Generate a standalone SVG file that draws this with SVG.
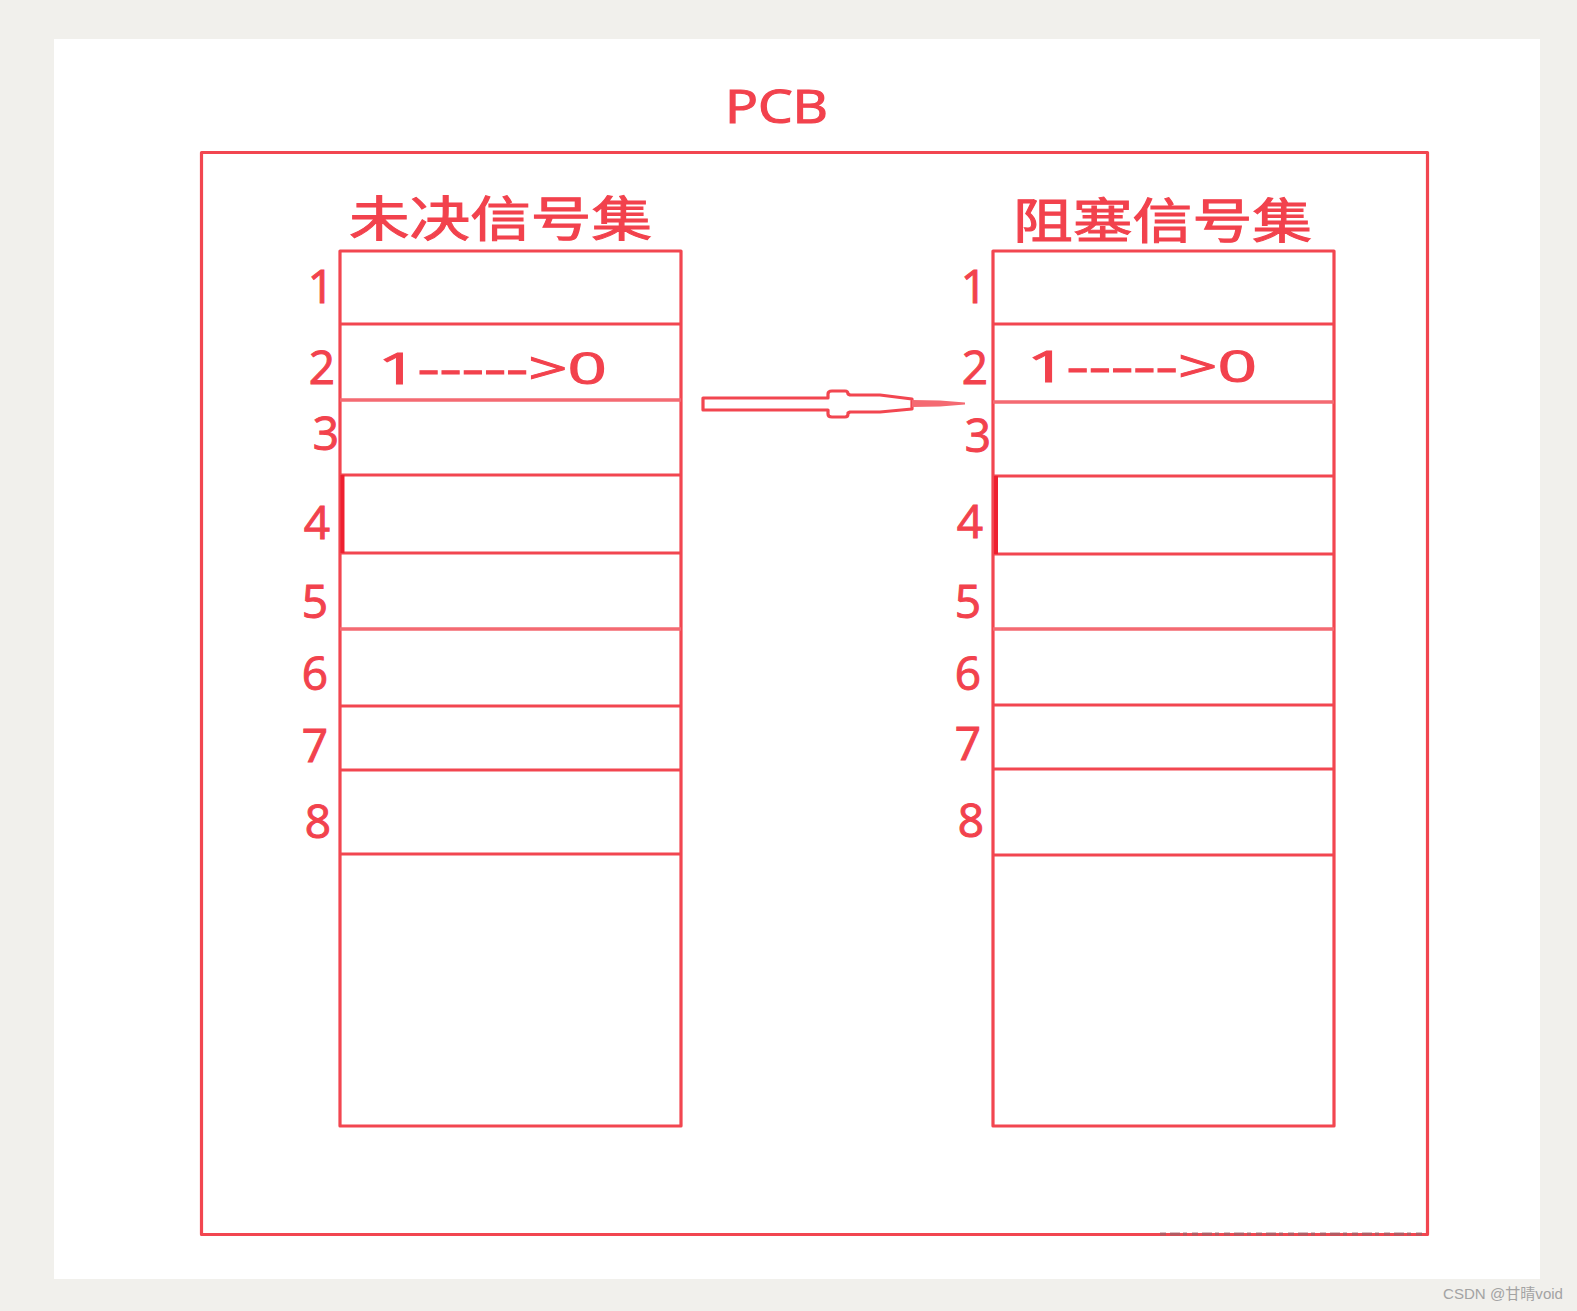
<svg xmlns="http://www.w3.org/2000/svg" width="1577" height="1311" viewBox="0 0 1577 1311">
<style>
.ln{fill:none;stroke:#f24650;stroke-width:3.2;stroke-linejoin:round}
.lt{stroke:#f46a72;stroke-width:3.6}
.num{font-family:"Open Sans","Noto Sans",sans-serif;font-size:46px;fill:#f2424d;stroke:#f2424d;stroke-width:1;text-anchor:middle}
.cell{font-family:"Open Sans","Noto Sans",sans-serif;font-size:44px;fill:#f2424d;stroke:#f2424d;stroke-width:1}
.cjk{font-family:"Noto Sans CJK SC",sans-serif;font-size:48px;fill:#f2424d;stroke:#f2424d;stroke-width:1}
</style>
<rect x="0" y="0" width="1577" height="1311" fill="#f1f0ec"/>
<rect x="54" y="39" width="1486" height="1240" fill="#ffffff"/>

<g id="pcb">
<rect class="ln" x="201.5" y="152.5" width="1226" height="1082" stroke-width="3.5"/>
<text x="725" y="123" font-family="Open Sans, Noto Sans, sans-serif" font-size="46" fill="#f2424d" stroke="#f2424d" stroke-width="1.2" textLength="103" lengthAdjust="spacingAndGlyphs">PCB</text>
<path d="M1160 1234 H1425" stroke="#a06068" stroke-width="3" stroke-dasharray="6 4 10 3 4 5" fill="none" opacity="0.8"/>
</g>

<g id="pending">
<text class="cjk" x="349" y="236" textLength="303" lengthAdjust="spacingAndGlyphs">未决信号集</text>
<rect class="ln" x="340" y="251" width="341" height="875"/>
<path class="ln" d="M340 324 H681 M340 475 H681 M340 553 H681 M340 706 H681 M340 770 H681 M340 854 H681"/>
<path class="ln lt" d="M340 400 H681 M340 629 H681"/>
<path d="M342.5 475 V553" stroke="#ee2030" stroke-width="4"/>
<text class="cell" x="378" y="384" textLength="229" lengthAdjust="spacingAndGlyphs">1-----&gt;0</text>
<text class="num" x="321" y="303">1</text>
<text class="num" x="322" y="384">2</text>
<text class="num" x="326" y="450">3</text>
<text class="num" x="317" y="539">4</text>
<text class="num" x="315" y="618">5</text>
<text class="num" x="315" y="690">6</text>
<text class="num" x="315" y="762">7</text>
<text class="num" x="318" y="838">8</text>
</g>

<g id="blocked">
<text class="cjk" x="1013" y="238" textLength="299" lengthAdjust="spacingAndGlyphs">阻塞信号集</text>
<rect class="ln" x="993" y="251" width="341" height="875" stroke="#f4646c"/>
<path class="ln" d="M993 324 H1334 M993 476 H1334 M993 554 H1334 M993 705 H1334 M993 769 H1334 M993 855 H1334"/>
<path class="ln lt" d="M993 402 H1334 M993 629 H1334"/>
<path d="M996 476 V554" stroke="#ee2030" stroke-width="4"/>
<text class="cell" x="1027" y="382" textLength="230" lengthAdjust="spacingAndGlyphs">1-----&gt;0</text>
<text class="num" x="974" y="303">1</text>
<text class="num" x="975" y="384">2</text>
<text class="num" x="978" y="452">3</text>
<text class="num" x="970" y="538">4</text>
<text class="num" x="968" y="618">5</text>
<text class="num" x="968" y="690">6</text>
<text class="num" x="968" y="760">7</text>
<text class="num" x="971" y="837">8</text>
</g>

<g id="connectors">
<path class="ln" d="M703 398 H828 V394 Q828 391 832 391 H845 Q848 391 848 394 L850 395 H880 L912 399 V409 L880 412 H850 L848 413 V414 Q848 417 845 417 H832 Q828 417 828 414 V410 H703 Z"/>
<path d="M912 400 L940 400.5 L965 402.5 L965 404.5 L940 406.5 L912 407 Z" fill="#f46a72"/>
</g>

<text x="1443" y="1299" font-family="Liberation Sans, Noto Sans CJK SC, sans-serif" font-size="15" fill="#a3a3a3" textLength="120" lengthAdjust="spacingAndGlyphs">CSDN @甘晴void</text>
</svg>
